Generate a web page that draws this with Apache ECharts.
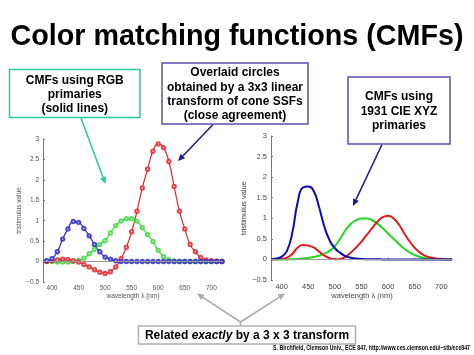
<!DOCTYPE html>
<html>
<head>
<meta charset="utf-8">
<script src="https://cdn.jsdelivr.net/npm/echarts@6/dist/echarts.min.js"></script>
<style>
html,body{margin:0;padding:0;background:#fff;}
#chart{width:474px;height:355px;}
</style>
</head>
<body>
<div id="chart"></div>
<script>
// ---------- DATA ----------
// Left chart: CMFs using RGB primaries
const wavelengthsRGB = [390,400,410,420,430,440,450,460,470,480,490,500,510,520,530,540,550,560,570,580,590,600,610,620,630,640,650,660,670,680,690,700,710,720];
const rBar = [0.00,0.02,0.04,0.06,0.05,0.02,-0.01,-0.07,-0.13,-0.20,-0.26,-0.29,-0.25,-0.13,0.07,0.35,0.73,1.23,1.80,2.26,2.70,2.88,2.79,2.45,1.84,1.23,0.80,0.42,0.24,0.10,0.04,0.02,0.01,0.00];
const gBar = [0.00,0.00,-0.01,-0.01,-0.01,0.00,0.03,0.08,0.19,0.30,0.42,0.51,0.70,0.88,0.99,1.05,1.05,0.99,0.83,0.66,0.49,0.28,0.12,0.04,0.01,0.00,0.00,0.00,0.00,0.00,0.00,0.00,0.00,0.00];
const bBar = [0.02,0.07,0.24,0.55,0.80,0.98,0.96,0.81,0.63,0.42,0.24,0.11,0.06,0.02,0.00,0.00,0.00,0.00,0.00,0.00,0.00,0.00,0.00,0.00,0.00,0.00,0.00,0.00,0.00,0.00,0.00,0.00,0.00,0.00];

// Right chart: CMFs using 1931 CIE XYZ primaries
const wavelengthsXYZ = [380,390,400,410,420,430,440,450,460,470,480,490,500,510,520,530,540,550,560,570,580,590,600,610,620,630,640,650,660,670,680,690,700,710,720];
const xBar = [0.0014,0.0042,0.0143,0.0435,0.1344,0.2839,0.3483,0.3362,0.2908,0.1954,0.0956,0.0320,0.0049,0.0093,0.0633,0.1655,0.2904,0.4334,0.5945,0.7621,0.9163,1.0263,1.0622,1.0026,0.8544,0.6424,0.4479,0.2835,0.1649,0.0874,0.0468,0.0227,0.0114,0.0058,0.0029];
const yBar = [0.0000,0.0001,0.0004,0.0012,0.0040,0.0116,0.0230,0.0380,0.0600,0.0910,0.1390,0.2080,0.3230,0.5030,0.7100,0.8620,0.9540,0.9950,0.9950,0.9520,0.8700,0.7570,0.6310,0.5030,0.3810,0.2650,0.1750,0.1070,0.0610,0.0320,0.0170,0.0082,0.0041,0.0021,0.0010];
const zBar = [0.0065,0.0201,0.0679,0.2074,0.6456,1.3856,1.7471,1.7721,1.6692,1.2876,0.8130,0.4652,0.2720,0.1582,0.0782,0.0422,0.0203,0.0087,0.0039,0.0021,0.0017,0.0011,0.0008,0.0003,0.0002,0,0,0,0,0,0,0,0,0,0];

// Tick labels
const xTickValues = [400,450,500,550,600,650,700];
const yTickValues = [-0.5,0,0.5,1,1.5,2,2.5,3];

// Texts
const titleText = 'Color matching functions (CMFs)';
const box1Lines = ['CMFs using RGB','primaries','(solid lines)'];
const box2Lines = ['Overlaid circles','obtained by a 3x3 linear','transform of cone SSFs','(close agreement)'];
const box3Lines = ['CMFs using','1931 CIE XYZ','primaries'];
const footerText = 'S. Birchfield, Clemson Univ., ECE 847, http://www.ces.clemson.edu/~stb/ece847';

// ---------- CHART ----------
const FONT = '"Liberation Sans", Arial, Helvetica, sans-serif';
const pairs = (xs, ys) => xs.map((x, i) => [x, ys[i]]);

function measure(text, font) {
  const c = document.createElement('canvas').getContext('2d');
  c.font = font;
  return c.measureText(text).width;
}

function arrow(x1, y1, x2, y2, color, w, head) {
  const a = Math.atan2(y2 - y1, x2 - x1);
  const bx = x2 - head * Math.cos(a), by = y2 - head * Math.sin(a);
  const hw = head * 0.45;
  const px = -Math.sin(a) * hw, py = Math.cos(a) * hw;
  return [
    {type: 'line', shape: {x1: x1, y1: y1, x2: bx, y2: by}, style: {stroke: color, lineWidth: w}},
    {type: 'polygon', shape: {points: [[x2, y2], [bx + px, by + py], [bx - px, by - py]]}, style: {fill: color}}
  ];
}

function box(x, y, w, h, stroke, lines, lh) {
  return [
    {type: 'rect', shape: {x: x, y: y, width: w, height: h}, style: {fill: '#fff', stroke: stroke, lineWidth: 1.5}, z: 10},
    {type: 'text', x: x + w / 2, y: y + h / 2 + 1, z: 11,
     style: {text: lines.join('\n'), font: 'bold 12px ' + FONT, fill: '#000', textAlign: 'center', textVerticalAlign: 'middle', lineHeight: lh}}
  ];
}

const titleFont = 'bold 30px ' + FONT;
const titleScale = 453 / measure(titleText, titleFont);
const footFont = 'bold 7px ' + FONT;
const footScale = 197 / measure(footerText, footFont);

function yAxisCfg(gridIndex, fs, color, gap) {
  return {
    type: 'value', gridIndex: gridIndex, min: -0.5, max: 3, interval: 0.5,
    name: 'tristimulus value', nameLocation: 'middle', nameGap: gap,
    nameTextStyle: {fontSize: fs, color: color, fontFamily: FONT},
    axisLine: {show: true, lineStyle: {color: '#777', width: 1}},
    axisTick: {show: true, inside: true, length: 2, lineStyle: {color: '#777'}},
    axisLabel: {fontSize: fs, color: color, fontFamily: FONT, margin: 4,
      formatter: v => (v < 0 ? '\u2212' + String(-v) : String(v))},
    splitLine: {show: false}
  };
}
function xAxisCfg(gridIndex, min, max, fs, color, gap) {
  return {
    type: 'value', gridIndex: gridIndex, min: min, max: max,
    name: 'wavelength \u03bb (nm)', nameLocation: 'middle', nameGap: gap,
    nameTextStyle: {fontSize: fs, color: color, fontFamily: FONT},
    axisLine: {show: false},
    axisTick: {show: true, inside: true, length: 2, customValues: xTickValues, lineStyle: {color: '#999'}},
    axisLabel: {fontSize: fs, color: color, fontFamily: FONT, margin: 3, customValues: xTickValues},
    splitLine: {show: false}
  };
}

const zeroLine = {silent: true, symbol: 'none', label: {show: false},
  lineStyle: {color: '#999', width: 1, type: 'solid'}, data: [{yAxis: 0}]};

function leftSeries(vals, color, withZero) {
  const s = {
    type: 'line', xAxisIndex: 0, yAxisIndex: 0, data: pairs(wavelengthsRGB, vals),
    smooth: true, symbol: 'emptyCircle', symbolSize: 3.4, showSymbol: true, showAllSymbol: true,
    lineStyle: {color: color, width: 1.2}, itemStyle: {color: color, borderWidth: 0.6, opacity: 0.85}, z: 3
  };
  if (withZero) s.markLine = zeroLine;
  return s;
}
function rightSeries(vals, color, withZero) {
  const s = {
    type: 'line', xAxisIndex: 1, yAxisIndex: 1, data: pairs(wavelengthsXYZ, vals),
    smooth: true, symbol: 'none', lineStyle: {color: color, width: 2}, z: 3
  };
  if (withZero) s.markLine = zeroLine;
  return s;
}

const graphics = [].concat(
  [{type: 'text', x: 237, y: 37, scaleX: titleScale, scaleY: 1,
    style: {text: titleText, font: titleFont, fill: '#000', textAlign: 'center', textVerticalAlign: 'middle'}}],
  box(9.5, 69.5, 130.5, 48, '#2ec79f', box1Lines, 14),
  box(162, 63, 146, 61, '#5b50b4', box2Lines, 14.3),
  box(348, 77, 102, 67, '#5b50b4', box3Lines, 14.5),
  arrow(81, 118, 105.5, 184, '#22c99c', 1.5, 7),
  arrow(213, 124.5, 178, 161, '#1a1a8c', 1.5, 7),
  arrow(382, 144.5, 353, 206, '#1a1a8c', 1.5, 7),
  arrow(240.5, 322, 197, 293.5, '#aaaaaa', 1.5, 7),
  arrow(240.5, 322, 285, 293.5, '#aaaaaa', 1.5, 7),
  [{type: 'line', shape: {x1: 240.5, y1: 321.5, x2: 240.5, y2: 326}, style: {stroke: '#aaaaaa', lineWidth: 1.5}},
   {type: 'rect', shape: {x: 138.5, y: 326, width: 217, height: 18}, style: {fill: '#fff', stroke: '#b0b0b0', lineWidth: 1.5}, z: 10},
   {type: 'text', x: 247, y: 335.5, z: 11,
    style: {text: '{n|Related }{i|exactly}{n| by a 3 x 3 transform}', textAlign: 'center', textVerticalAlign: 'middle',
      rich: {n: {font: 'bold 12px ' + FONT, fill: '#000'}, i: {font: 'italic bold 12px ' + FONT, fill: '#000'}}}},
   {type: 'text', x: 470, y: 348, scaleX: footScale, scaleY: 1,
    style: {text: footerText, font: footFont, fill: '#000', textAlign: 'right', textVerticalAlign: 'middle'}}]
);

const chart = echarts.init(document.getElementById('chart'), null, {renderer: 'canvas'});
chart.setOption({
  animation: false,
  backgroundColor: '#ffffff',
  grid: [
    {left: 43, top: 139, width: 180, height: 143, containLabel: false},
    {left: 271, top: 136, width: 182, height: 144, containLabel: false}
  ],
  xAxis: [xAxisCfg(0, 383, 722, 6.5, '#555', 7), xAxisCfg(1, 380, 722, 7.5, '#444', 8)],
  yAxis: [yAxisCfg(0, 6.5, '#555', 13), yAxisCfg(1, 7.5, '#444', 17)],
  series: [
    leftSeries(gBar, '#3fd83f', true),
    leftSeries(rBar, '#e5262e', false),
    leftSeries(bBar, '#2c2cc4', false),
    rightSeries(yBar, '#22d622', true),
    rightSeries(xBar, '#e01a1a', false),
    rightSeries(zBar, '#0c0cb2', false)
  ],
  graphic: graphics
});
</script>
</body>
</html>
